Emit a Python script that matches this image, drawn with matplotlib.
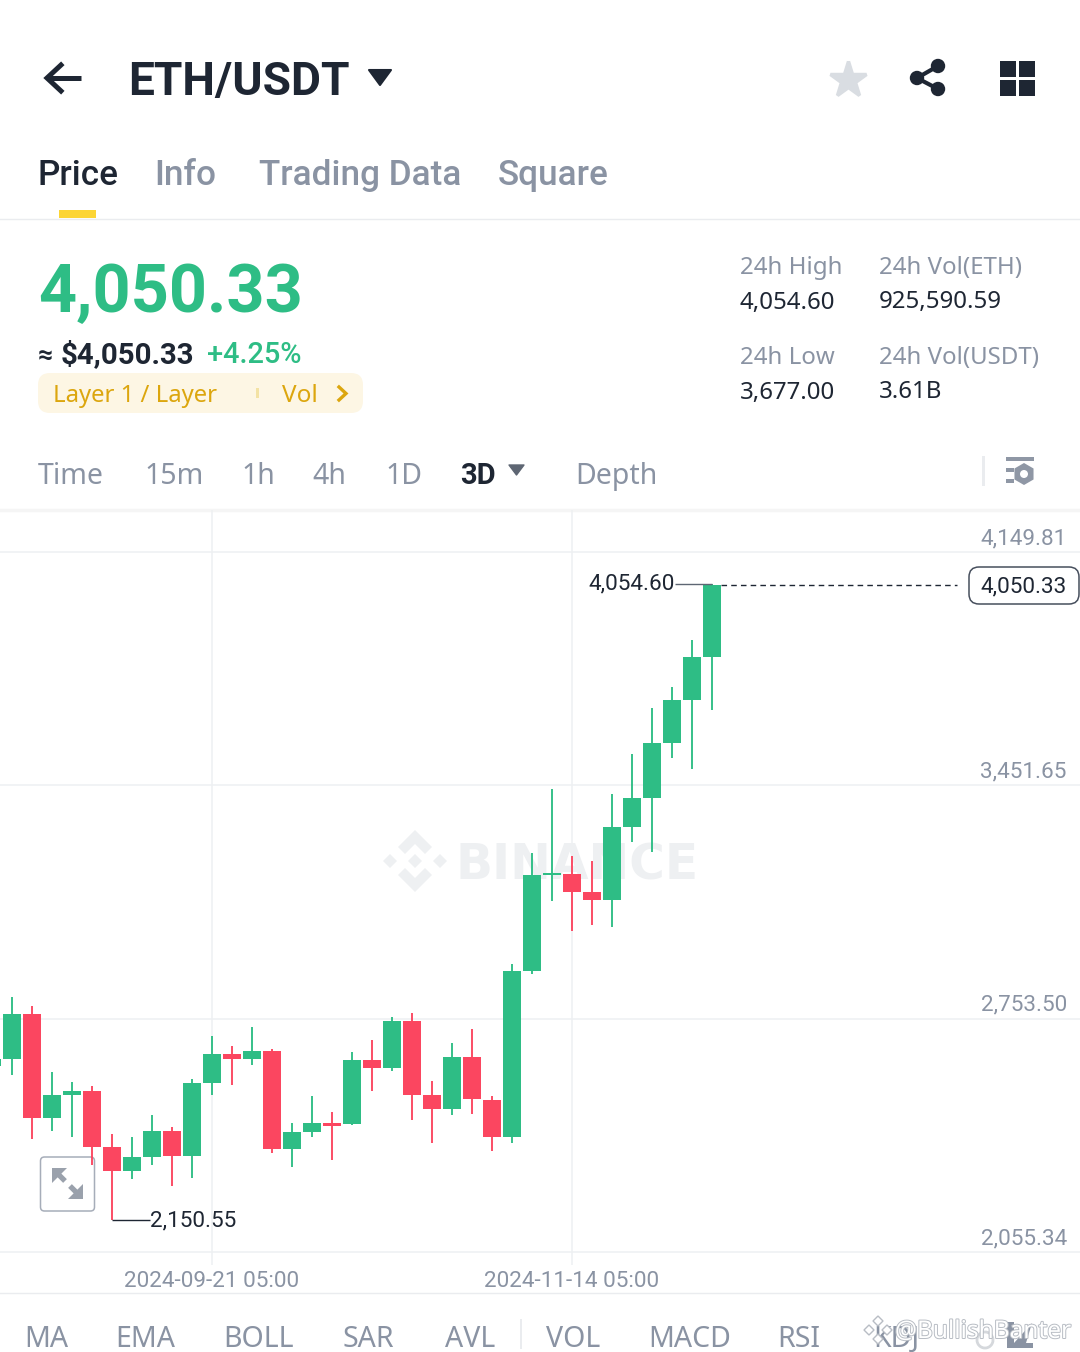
#!/usr/bin/env python3
"""ETH/USDT 3D candlestick screen, redrawn with matplotlib"""

import numpy as np
import matplotlib
matplotlib.use('Agg')
import matplotlib.pyplot as plt
import matplotlib.patheffects as pe
from matplotlib.patches import FancyBboxPatch, Polygon, Rectangle, Circle, RegularPolygon, Arc
from matplotlib.transforms import ScaledTranslation

plt.rcParams['font.family'] = ['Noto Sans', 'DejaVu Sans']

# candles, oldest first (first one is cut off by the left edge)
opens = [2612, 2631.9, 2767.4, 2457.2, 2526, 2537.1, 2368.6, 2297.7, 2340.5, 2417.4, 2341.7, 2561.9,
         2646.9, 2631.9, 2656.7, 2364.4, 2414.4, 2440.4, 2439.2, 2629.8, 2605.9, 2746.5, 2524.2, 2482.3,
         2637.9, 2510.1, 2398.5, 2895.2, 3183.4, 3186.3, 3132.5, 3107.6, 3327, 3413.7, 3578.3, 3707, 3836.5]
highs = [2631.9, 2819.2, 2791.4, 2594.8, 2564, 2552, 2408.4, 2399.4, 2464.3, 2429.3, 2572.1, 2701.6,
         2672.6, 2727.6, 2662.7, 2440.4, 2521.2, 2473.3, 2653.8, 2688.8, 2758.5, 2769.5, 2566.1, 2681.6,
         2721.7, 2522.1, 2916.1, 3248.3, 3441.6, 3240.2, 3224.3, 3425.7, 3545.4, 3683.9, 3745.9, 3886.5, 4054.60]
lows = [2612, 2584, 2393.4, 2418.3, 2400.3, 2315.6, 2150.55, 2272.9, 2315.6, 2251.9, 2277.6, 2525.1,
        2554.1, 2614.9, 2352.4, 2310.5, 2400.3, 2330.6, 2434.4, 2537.1, 2596, 2449.4, 2382.4, 2464.3,
        2467.3, 2357.5, 2380.6, 2886.2, 3104.7, 3014.9, 3034.6, 3028.7, 3281.2, 3252.2, 3534.3, 3499.6, 3677.00]
closes = [2631.9, 2767.4, 2457.2, 2525.1, 2537.1, 2368.6, 2297.7, 2339.6, 2417.4, 2341.7, 2561, 2646.9,
          2631.9, 2656.7, 2364.4, 2414.4, 2440.4, 2433.2, 2628.9, 2605.9, 2746.5, 2525.1, 2482.3, 2637.9,
          2512.2, 2398.5, 2895.2, 3182.4, 3190.2, 3133.4, 3107.6, 3327, 3413.7, 3578.3, 3707, 3836.5, 4050.33]

price_ticks = [4149.81, 3451.65, 2753.50, 2055.34]
date_ticks = [10, 28]
date_labels = ['2024-09-21 05:00', '2024-11-14 05:00']

tabs = ['Price', 'Info', 'Trading Data', 'Square']
intervals = ['Time', '15m', '1h', '4h', '1D', '3D', 'Depth']
indicators = ['MA', 'EMA', 'BOLL', 'SAR', 'AVL', 'VOL', 'MACD', 'RSI', 'KDJ']

DARK = '#1e2633'
GRAY = '#8a93a3'
GREEN = '#2ebd85'
RED = '#fb4660'
GOLD = '#dca60e'
LINE = '#eef0f2'
ROBOTO = ['Roboto', 'DejaVu Sans']
W, H = 1080, 1352


def pixel_axes(fig, zorder):
    a = fig.add_axes([0, 0, 1, 1], zorder=zorder)
    a.set_xlim(0, W)
    a.set_ylim(H, 0)
    a.axis('off')
    return a


fig = plt.figure(figsize=(W / 100, H / 100), dpi=100, facecolor='white')
bg = pixel_axes(fig, 0)
ui = pixel_axes(fig, 2)

# --- chart ---
chart_top, chart_bottom = 510, 1265
tick_top, tick_bottom = 552, 1252
per_px = (price_ticks[0] - price_ticks[-1]) / (tick_bottom - tick_top)

ax = fig.add_axes([0, (H - chart_bottom) / H, 1, (chart_bottom - chart_top) / H], zorder=3)
ax.patch.set_visible(False)
ax.set_frame_on(False)
ax.set_xlim(-0.6, 53.4)
ax.set_ylim(price_ticks[0] - (chart_bottom - tick_top) * per_px,
            price_ticks[0] + (tick_top - chart_top) * per_px)

idx = np.arange(-1, len(opens) - 1)
o, h, l, c = map(np.array, (opens, highs, lows, closes))
colors = [GREEN if b >= a else RED for a, b in zip(o, c)]
ax.vlines(idx, l, h, colors=colors, linewidth=1.35, zorder=3)
ax.bar(idx, np.abs(c - o), bottom=np.minimum(o, c), width=0.885, color=colors, zorder=4)

ax.set_xticks(date_ticks, date_labels)
ax.set_yticks(price_ticks, [f'{v:,.2f}' for v in price_ticks])
ax.grid(True, color=LINE, linewidth=1.1, zorder=0)
ax.set_axisbelow(True)
ax.tick_params(axis='x', length=0, pad=4, labelsize=16.2, labelcolor=GRAY)
ax.tick_params(axis='y', length=0, left=False, labelleft=False, right=False, labelright=True,
               pad=-9.5, labelsize=16.2, labelcolor=GRAY)
for lab in ax.get_xticklabels():
    lab.set_fontfamily(ROBOTO)
for lab in ax.get_yticklabels():
    lab.set_fontfamily(ROBOTO)
    lab.set_ha('right')
    lab.set_va('bottom')
    lab.set_transform(lab.get_transform() + ScaledTranslation(0, 2.2 / 72, fig.dpi_scale_trans))

# high / low / last price notes
hi_i = int(np.argmax(h))
lo_i = int(np.argmin(l))
ax.hlines(h[hi_i], idx[hi_i] - 1.85, idx[hi_i], color='#5e6673', linewidth=1, zorder=5)
ax.text(idx[hi_i] - 1.87, h[hi_i], f'{h[hi_i]:,.2f}', ha='right', va='center', fontsize=16.2,
        color=DARK, family=ROBOTO)
ax.hlines(l[lo_i], idx[lo_i], idx[lo_i] + 1.9, color=DARK, linewidth=1, zorder=5)
ax.annotate(f'{l[lo_i]:,.2f}', (idx[lo_i] + 1.9, l[lo_i]), xytext=(0, -0.7), textcoords='offset points',
            ha='left', va='center', fontsize=16.2, color=DARK, family=ROBOTO)
ax.hlines(c[-1], idx[-1] + 0.44, 47.25, color=DARK, linewidth=1, linestyles=(0, (4, 3)), zorder=2)
ax.annotate(f'{c[-1]:,.2f}', (50.6, c[-1]), xytext=(0, -1.2), textcoords='offset points',
            ha='center', va='center', fontsize=16.2, color=DARK, family=ROBOTO, zorder=7)
ui.add_patch(FancyBboxPatch((969, 567), 110, 37, boxstyle='round,pad=0,rounding_size=10',
                            fc='white', ec='#474f5d', lw=1.1, zorder=1))

# --- watermark behind the candles ---
wm = '#eef0f2'
cx, cy = 415, 861
bg.add_patch(Polygon([(cx, cy - 31), (cx + 17, cy - 14), (cx + 10, cy - 7), (cx, cy - 17),
                      (cx - 10, cy - 7), (cx - 17, cy - 14)], fc=wm))
bg.add_patch(Polygon([(cx, cy + 31), (cx + 17, cy + 14), (cx + 10, cy + 7), (cx, cy + 17),
                      (cx - 10, cy + 7), (cx - 17, cy + 14)], fc=wm))
for dx in (-25, 0, 25):
    bg.add_patch(Polygon([(cx + dx, cy - 7), (cx + dx + 7, cy), (cx + dx, cy + 7), (cx + dx - 7, cy)], fc=wm))
bg.text(456, 879, 'BINANCE', fontsize=35, fontweight='bold', color=wm, va='baseline', ha='left',
        family=['DejaVu Sans'])

# --- header ---
ui.plot([47, 81], [78, 78], color=DARK, lw=3.6, solid_capstyle='butt')
ui.plot([61, 47, 61], [65, 78, 91], color=DARK, lw=3.6, solid_joinstyle='miter')
ui.text(128, 95, 'ETH/USDT', fontsize=33.2, fontweight='bold', color=DARK, va='baseline', family=ROBOTO)
ui.add_patch(Polygon([(369, 70), (391, 70), (380, 85)], fc=DARK, ec=DARK, lw=1.5, joinstyle='round'))

ui.plot([848], [80], marker='*', ms=27, color='#d9dde2', mec='#d9dde2', mew=2.5, mfc='#d9dde2')
ui.plot([938, 917, 938], [66, 78, 89], color=DARK, lw=3)
for px, py in [(938, 66), (917, 78), (938, 89)]:
    ui.add_patch(Circle((px, py), 7.2, fc=DARK))
for px in (1000, 1019):
    for py in (61, 80):
        ui.add_patch(Rectangle((px, py), 15.5, 15.5, fc=DARK))

for label, px in zip(tabs, [38, 154, 259, 498]):
    ui.text(px, 185, label, fontsize=25.3, color=DARK if label == 'Price' else GRAY,
            fontweight='medium', va='baseline', family=ROBOTO)
ui.add_patch(Rectangle((59, 210), 37, 8, fc='#fcd535'))
ui.plot([0, W], [218.5, 218.5], color='#eaecef', lw=1)

# --- price block ---
ui.text(38, 312, '4,050.33', fontsize=48, fontweight='bold', color=GREEN, va='baseline', family=ROBOTO)
ui.text(38, 363, '≈', fontsize=19, fontweight='bold', color=DARK, va='baseline', family=ROBOTO)
ui.text(61, 363, '$4,050.33', fontsize=21.2, fontweight='bold', color=DARK, va='baseline', family=ROBOTO)
ui.text(207, 363, '+4.25%', fontsize=20.8, fontweight='medium', color=GREEN, va='baseline', family=ROBOTO)
ui.add_patch(FancyBboxPatch((38, 373), 325, 40, boxstyle='round,pad=0,rounding_size=12', fc='#fdf6e4', ec='none'))
ui.text(53, 402, 'Layer 1 / Layer', fontsize=17.2, color=GOLD, va='baseline')
ui.add_patch(Rectangle((256, 388), 3, 10, fc='#f3e2a4'))
ui.text(282, 402, 'Vol', fontsize=17.5, color=GOLD, va='baseline')
ui.plot([339, 346, 339], [387, 393.5, 400], color=GOLD, lw=2.4, solid_joinstyle='miter')

for px, py, label, col in [(740, 274, '24h High', GRAY), (740, 309, '4,054.60', DARK),
                           (879, 274, '24h Vol(ETH)', GRAY), (879, 308, '925,590.59', DARK),
                           (740, 364, '24h Low', GRAY), (740, 399, '3,677.00', DARK),
                           (879, 364, '24h Vol(USDT)', GRAY), (879, 398, '3.61B', DARK)]:
    ui.text(px, py, label, fontsize=17.3, color=col, va='baseline')

# --- interval row ---
for label, px in zip(intervals, [38, 144, 241, 312, 385, 460, 575]):
    sel = label == '3D'
    ui.text(px, 484, label, fontsize=21 if sel else 20.5, color=DARK if sel else GRAY,
            fontweight='bold' if sel else 'normal', va='baseline',
            family=ROBOTO if sel else ['Noto Sans', 'DejaVu Sans'])
ui.add_patch(Polygon([(509, 465), (524, 465), (516.5, 475)], fc='#5e6673', ec='#5e6673', lw=1, joinstyle='round'))
ui.add_patch(Rectangle((982, 456), 3, 30, fc='#eaecef'))
for x0, x1, py in [(1006, 1034, 459), (1006, 1014, 470), (1006, 1014, 481)]:
    ui.add_patch(Rectangle((x0, py - 2), x1 - x0, 4, fc='#8f97a5'))
ui.add_patch(RegularPolygon((1024, 474), 6, radius=11, fc='#8f97a5'))
ui.add_patch(Circle((1024, 474), 4, fc='white'))
ui.plot([0, W], [509.5, 509.5], color='#f5f5f5', lw=2.5)

# --- expand button ---
ui.add_patch(FancyBboxPatch((40.5, 1157), 54, 54, boxstyle='round,pad=0,rounding_size=4',
                            fc='white', ec='#a6adb9', lw=1.1))
btn = '#9aa1ac'
ui.add_patch(Polygon([(52, 1168), (67, 1168), (52, 1183)], fc=btn))
ui.add_patch(Polygon([(83, 1199), (68, 1199), (83, 1184)], fc=btn))
ui.plot([56, 65], [1172, 1181], color=btn, lw=3.8, solid_capstyle='butt')
ui.plot([70, 79], [1186, 1195], color=btn, lw=3.8, solid_capstyle='butt')

# --- indicator row ---
ui.plot([0, W], [1292.5, 1292.5], color='#eaecef', lw=1)
for label, px in zip(indicators, [24, 115, 223, 342, 445, 546, 648, 777, 873]):
    ui.text(px, 1347, label, fontsize=20.5, color=GRAY, va='baseline')
ui.add_patch(Rectangle((520, 1319), 1.5, 30, fc='#eaecef'))
ui.add_patch(Arc((985, 1340), 16, 16, theta1=0, theta2=360, ec='#d5d8dc', lw=2))
ui.add_patch(Rectangle((1007, 1322), 7, 26, fc=GRAY))
ui.add_patch(Rectangle((1007, 1343), 26, 5, fc=GRAY))
ui.add_patch(Polygon([(1014, 1343), (1032, 1323), (1026, 1343)], fc=GRAY))

# --- reposter mark, white with grey outline ---
outline = [pe.withStroke(linewidth=1.4, foreground='#b8bdc4')]
ui.text(895, 1338, '@BullishBanter', fontsize=17.6, color='white', va='baseline', path_effects=outline, zorder=10)
for dx, dy in [(0, -9), (-9, 0), (9, 0), (0, 9)]:
    ui.add_patch(RegularPolygon((878 + dx, 1330 + dy), 4, radius=5, fc='white', ec='#b8bdc4', lw=1, zorder=10))

fig.savefig('out.png', dpi=100)
